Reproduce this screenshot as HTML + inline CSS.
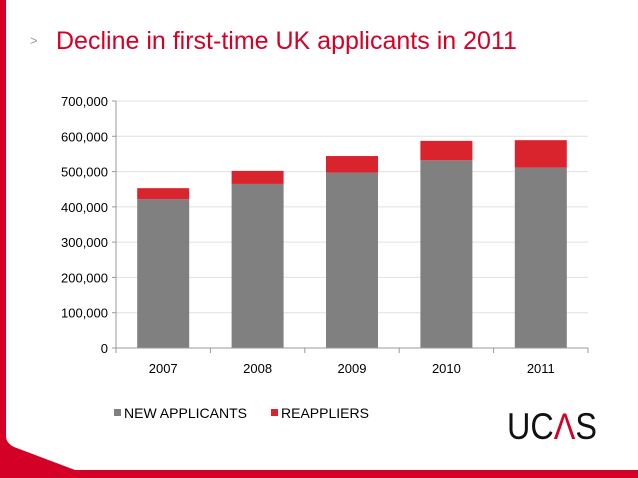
<!DOCTYPE html>
<html><head><meta charset="utf-8"><style>
body{margin:0;width:638px;height:478px;overflow:hidden;background:#fff;font-family:"Liberation Sans",sans-serif;}
svg{display:block}
</style></head><body>
<svg width="638" height="478">
<path d="M0,0 L6,0 L6,436 Q6,443 14,447 L75,470 L638,470 L638,478 L0,478 Z" fill="#d50026"/>
<text x="30" y="45" font-size="13" fill="#999">&gt;</text>
<text x="56" y="49" font-size="25" fill="#d50026">Decline in first-time UK applicants in 2011</text>
<g id="chart"></g>
<g>
<rect x="114" y="409" width="7" height="7" fill="#808080"/>
<text x="124" y="418" font-size="14" textLength="123" lengthAdjust="spacingAndGlyphs" fill="#000">NEW APPLICANTS</text>
<rect x="271" y="409" width="7" height="7" fill="#d9232d"/>
<text x="281" y="418" font-size="14" textLength="88" lengthAdjust="spacingAndGlyphs" fill="#000">REAPPLIERS</text>
</g>
<text x="507" y="439" font-size="37" fill="#111" textLength="90" lengthAdjust="spacingAndGlyphs">UC<tspan fill="#d50026">Λ</tspan>S</text>
</svg>
<script>
const categories=["2007","2008","2009","2010","2011"];
const newApplicants=[422000,465000,497000,532000,511000];
const reappliers=[31000,37000,47000,55000,78000];
const yTicks=[0,100000,200000,300000,400000,500000,600000,700000];
const NS="http://www.w3.org/2000/svg";
const g=document.getElementById('chart');
const x0=116,x1=588,y0=348,y1=101,yMax=700000;
const y=v=>y0-(v/yMax)*(y0-y1);
const bw=(x1-x0)/categories.length;
function mk(t,a){const e=document.createElementNS(NS,t);for(const k in a)e.setAttribute(k,a[k]);g.appendChild(e);return e;}
yTicks.forEach(t=>{
 if(t>0){const l=mk('line',{x1:x0,x2:x1,y1:y(t),y2:y(t),stroke:'#e0e0e0'});
 
 }
 const tk=mk('line',{x1:x0-4,x2:x0,y1:y(t),y2:y(t),stroke:'#999'});
 
 
 const tx=mk('text',{x:x0-8,y:y(t)+5,'text-anchor':'end','font-size':'13',fill:'#000'});
 tx.textContent=t.toLocaleString('en-US');
 
 
});
categories.forEach((c,i)=>{
 const cx=x0+bw*(i+0.5),w=52;
 const b1=mk('rect',{x:cx-w/2,y:y(newApplicants[i]),width:w,height:y0-y(newApplicants[i]),fill:'#808080'});
 
 
 const tot=newApplicants[i]+reappliers[i];
 const b2=mk('rect',{x:cx-w/2,y:y(tot),width:w,height:y(newApplicants[i])-y(tot),fill:'#d9232d'});
 
 
 const tx=mk('text',{x:cx,y:373,'text-anchor':'middle','font-size':'13',fill:'#000'});
 tx.textContent=c;
 
 
});
for(let i=0;i<=categories.length;i++){const t=mk('line',{x1:x0+bw*i,x2:x0+bw*i,y1:y0,y2:y0+5,stroke:'#999'});
 
 }
const ya=mk('line',{x1:x0,x2:x0,y1:y1,y2:y0,stroke:'#999'});


const xa=mk('line',{x1:x0,x2:x1,y1:y0,y2:y0,stroke:'#999'});


</script>
</body></html>
